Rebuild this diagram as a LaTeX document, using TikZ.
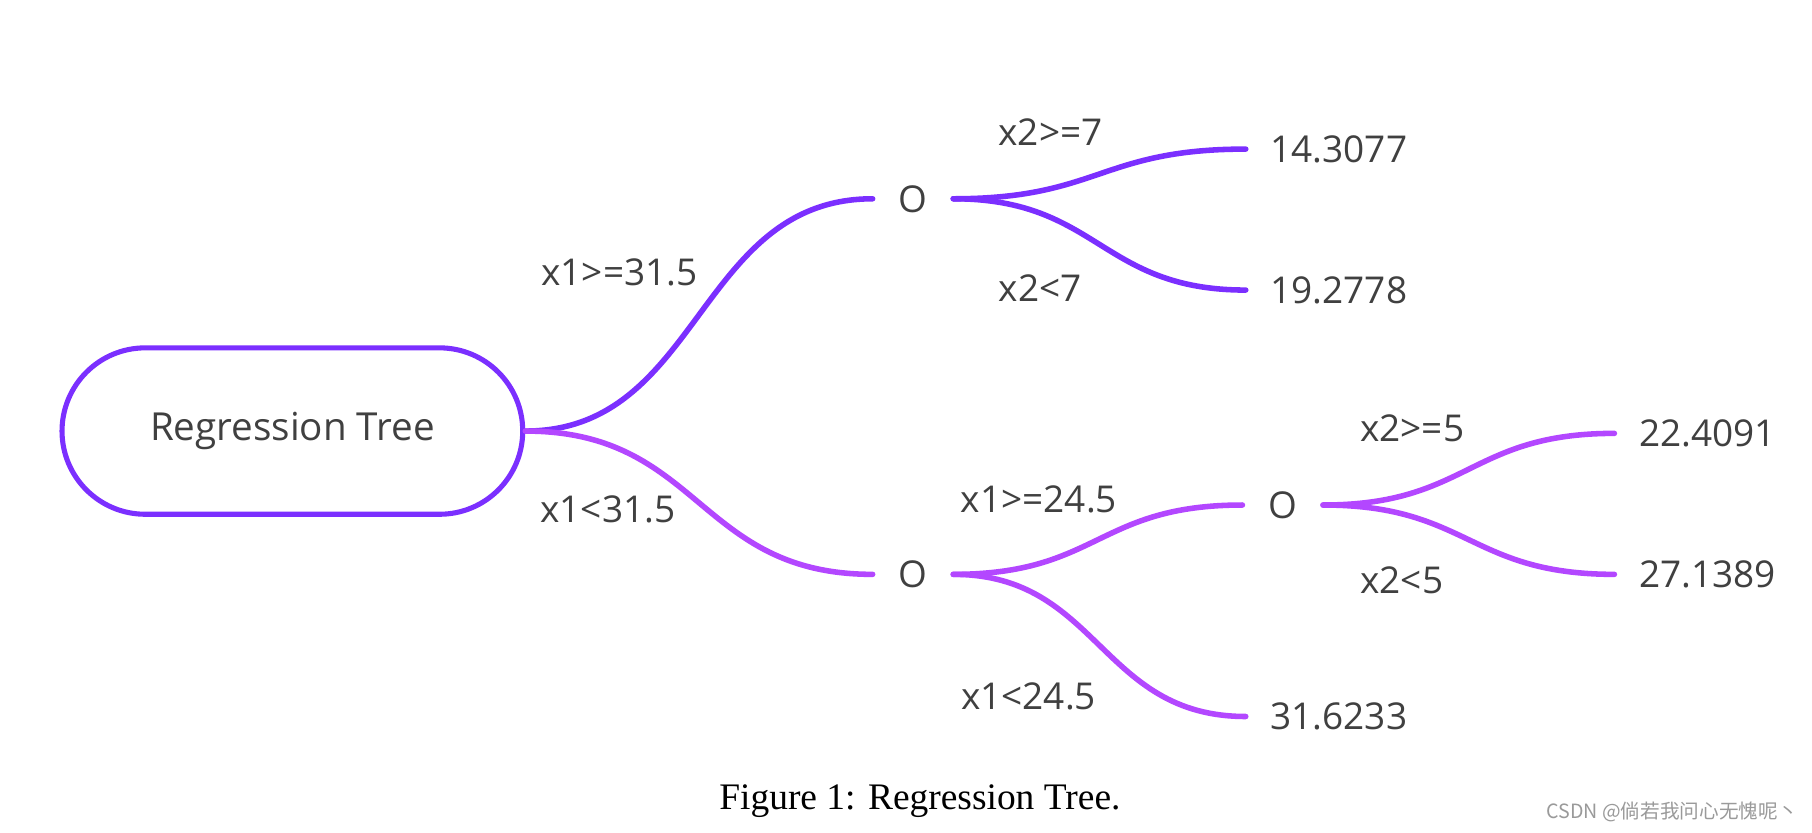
\documentclass[tikz,border=0pt]{standalone}
\usepackage{fontspec}
\setmainfont{Open Sans}
\newfontfamily\capfont{Liberation Serif}
\newfontfamily\cjkfont{Noto Sans CJK SC}
\usetikzlibrary{shapes.misc}
\definecolor{topc}{HTML}{7B2FFF}
\definecolor{botc}{HTML}{B347FF}
\definecolor{txt}{HTML}{404040}
\definecolor{wm}{HTML}{9A9A9A}
\begin{document}
\begin{tikzpicture}[x=0.5pt,y=-0.5pt,
  lbl/.style={font=\fontsize{16}{19}\selectfont, text=txt, inner sep=0pt},
  knot/.style={lbl, inner xsep=11pt, inner ysep=2pt},
  leaf/.style={lbl, anchor=west, inner xsep=10.5pt, inner ysep=2pt},
  topl/.style={draw=topc, line width=2.4pt, line cap=round},
  botl/.style={draw=botc, line width=2.4pt, line cap=round}]
\useasboundingbox[fill=white] (0,0) rectangle (1568,720);
% nodes
\node[rounded rectangle, draw=topc, line width=2.2pt, minimum width=206pt, minimum height=72pt,
      font=\fontsize{16.7}{20}\selectfont, text=txt] (root) at (253,373) {Regression Tree};
\node[knot] (o1) at (790,172) {O};
\node[knot] (o2) at (790,497) {O};
\node[knot] (o3) at (1110,437) {O};
\node[leaf] (l1) at (1078,129) {14.3077};
\node[leaf] (l2) at (1078,251) {19.2778};
\node[leaf] (l3) at (1397,375) {22.4091};
\node[leaf] (l4) at (1397,497) {27.1389};
\node[leaf] (l5) at (1078,620) {31.6233};
% edge labels
\node[lbl] (e1) at (536,236) {x1>=31.5};
\node[lbl] (e2) at (526,441) {x1<31.5};
\node[lbl] (e3) at (909,114) {x2>=7};
\node[lbl] (e4) at (900,249) {x2<7};
\node[lbl] (e5) at (899,432) {x1>=24.5};
\node[lbl] (e6) at (890,603) {x1<24.5};
\node[lbl] (e7) at (1222,371) {x2>=5};
\node[lbl] (e8) at (1213,502) {x2<5};
% connectors
\draw[topl] (root.east) .. controls +(152,0) and +(-152,0) .. (o1.west);
\draw[botl] (root.east) .. controls +(152,0) and +(-152,0) .. (o2.west);
\draw[topl] (o1.east) .. controls +(126,0) and +(-126,0) .. (l1.west);
\draw[topl] (o1.east) .. controls +(126,0) and +(-126,0) .. (l2.west);
\draw[botl] (o2.east) .. controls +(126,0) and +(-126,0) .. (o3.west);
\draw[botl] (o2.east) .. controls +(126,0) and +(-126,0) .. (l5.west);
\draw[botl] (o3.east) .. controls +(126,0) and +(-126,0) .. (l3.west);
\draw[botl] (o3.east) .. controls +(126,0) and +(-126,0) .. (l4.west);
% caption and watermark
\node[font=\capfont\fontsize{16.2}{19}\selectfont, text=black, inner sep=0pt] (cap) at (796,693) {Figure 1: Regression Tree.};
\node[font=\cjkfont\fontsize{8.5}{10}\selectfont, text=wm, inner sep=0pt] (wmk) at (1447,703) {CSDN @倘若我问心无愧呢丶};
\end{tikzpicture}
\end{document}
